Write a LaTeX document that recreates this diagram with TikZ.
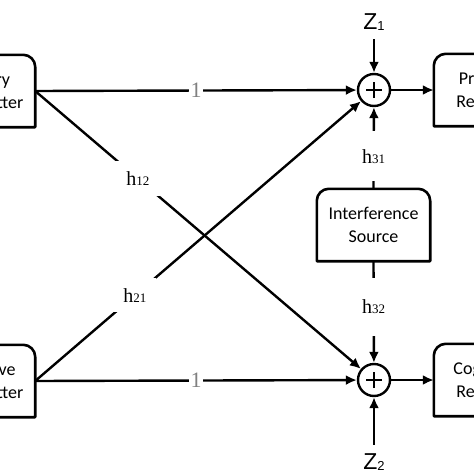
\documentclass[tikz,border=0pt]{standalone}
\usepackage{fontspec}
\setmainfont{Carlito}
\newfontfamily\gainfont{Liberation Serif}
\newfontfamily\noisefont{Liberation Sans}
\usetikzlibrary{arrows.meta, positioning}

\tikzset{
  unit/.style={minimum width=107pt, minimum height=72pt, inner sep=0pt,
    align=center, font=\fontsize{18}{23}\selectfont},
  frame/.style={line width=2.6pt, line join=round},
  adder/.style={circle, draw, line width=2.4pt, minimum size=32pt, inner sep=0pt},
  link/.style={line width=2.4pt},
  feed/.style={link, -{Latex[length=11pt,width=10pt]}},
  gain/.style={fill=white, inner sep=11pt, font=\gainfont\fontsize{20}{20}\selectfont},
  unity/.style={fill=white, inner sep=1.5pt, text=gray, font=\gainfont\fontsize{22}{22}\selectfont},
  noise/.style={inner sep=0pt, outer sep=9pt, font=\noisefont\fontsize{23}{23}\selectfont},
}
\newcommand{\hch}[1]{h{\fontsize{13}{13}\selectfont #1}}
\newcommand{\zsub}[1]{Z{\fontsize{13}{13}\selectfont\raisebox{-1pt}{#1}}}

\begin{document}
\begin{tikzpicture}[x=1pt, y=-1pt]
  \clip (0,0) rectangle (474,474);
  % terminals
  \node[unit] (tx1) at (-18.5,91) {Primary\\Transmitter};
  \node[unit] (tx2) at (-18.5,381) {Cognitive\\Transmitter};
  \node[unit] (rx1) at (487.5,90) {Primary\\Receiver};
  \node[unit] (rx2) at (487.5,380) {Cognitive\\Receiver};
  \node[unit, minimum width=113pt] (src) at (373.5,225) {Interference\\Source};
  % rounded tops only
  \foreach \b in {tx1,tx2,rx1,rx2,src}
    \draw[frame] (\b.south west) -- ([yshift=-12pt]\b.north west)
      arc[start angle=180, end angle=90, radius=12pt]
      -- ([xshift=-12pt]\b.north east)
      arc[start angle=90, end angle=0, radius=12pt]
      -- (\b.south east) -- cycle;
  % adders
  \node[adder] (sum1) at (374,90) {};
  \node[adder] (sum2) at (374,380) {};
  \foreach \s in {sum1,sum2}
    \draw[link] ([xshift=-8pt]\s.center) -- ([xshift=8pt]\s.center)
      ([yshift=-8pt]\s.center) -- ([yshift=8pt]\s.center);
  % noise
  \node[noise] (z1) at (374,22) {\zsub{1}};
  \node[noise] (z2) at (374,462) {\zsub{2}};
  \draw[feed] (z1.south) -- (sum1);
  \draw[feed] (z2.north) -- (sum2);
  % direct links
  \draw[feed] (tx1.east) -- (sum1) node[unity, pos=0.5] {1};
  \draw[feed] (tx2.east) -- (sum2) node[unity, pos=0.5] {1};
  % cross links
  \draw[feed] (tx1.east) -- (sum2) node[gain, pos=0.315] {\hch{12}};
  \draw[feed] (tx2.east) -- (sum1) node[gain, pos=0.306, inner sep=10pt] {\hch{21}};
  % interference
  \draw[feed] (src.north) -- (sum1) node[gain, pos=0.40, inner xsep=4pt, inner ysep=18pt] {\hch{31}};
  \draw[feed] (src.south) -- (sum2) node[gain, pos=0.45, inner xsep=4pt, inner ysep=22pt] {\hch{32}};
  % outputs
  \draw[feed] (sum1) -- (rx1);
  \draw[feed] (sum2) -- (rx2);
\end{tikzpicture}
\end{document}
